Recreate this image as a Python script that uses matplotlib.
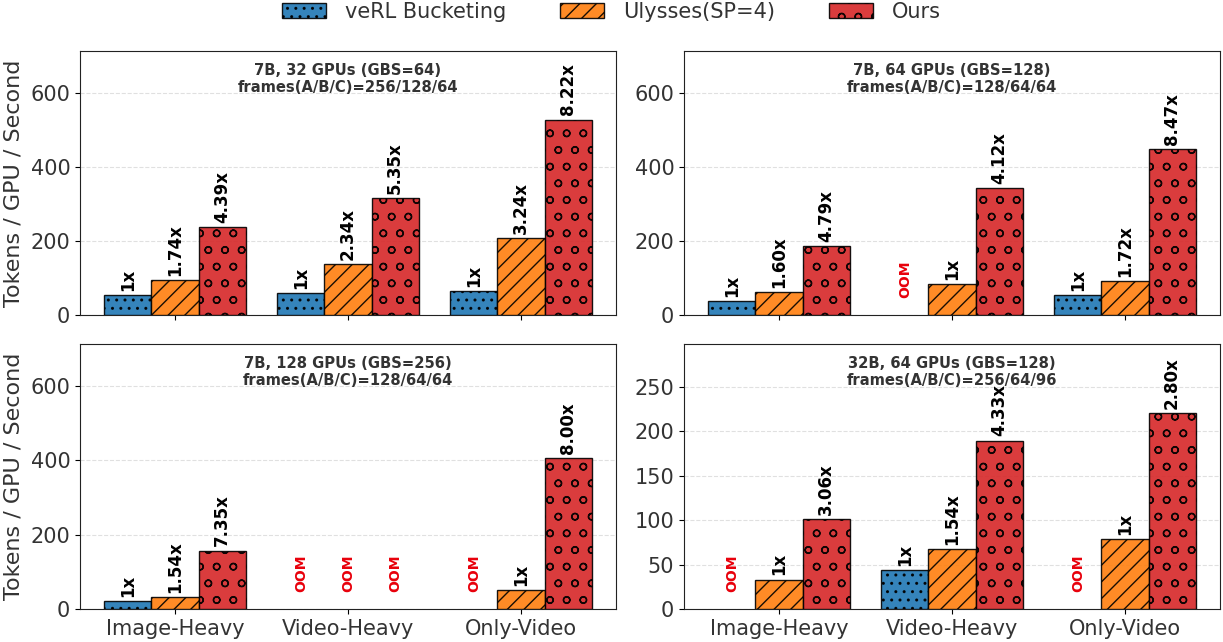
import matplotlib.pyplot as plt
import matplotlib.transforms as mtransforms
import numpy as np

categories = ['Image-Heavy', 'Video-Heavy', 'Only-Video']
methods = ['veRL Bucketing', 'Ulysses(SP=4)', 'Ours']

titles = [
    '7B, 32 GPUs (GBS=64)\nframes(A/B/C)=256/128/64',
    '7B, 64 GPUs (GBS=128)\nframes(A/B/C)=128/64/64',
    '7B, 128 GPUs (GBS=256)\nframes(A/B/C)=128/64/64',
    '32B, 64 GPUs (GBS=128)\nframes(A/B/C)=256/64/96',
]

# throughput per panel, None = OOM
verl_vals = [
    [54, 59, 64],
    [38.5, None, 53],
    [21.4, None, None],
    [None, 43.7, None],
]
ulysses_vals = [
    [94, 138, 208],
    [62, 83, 91],
    [33, None, 50.6],
    [33, 67.3, 78.8],
]
ours_vals = [
    [237, 316, 527],
    [185, 342, 447],
    [157, None, 405],
    [101, 189.3, 220.6],
]

verl_labels = [
    ['1x', '1x', '1x'],
    ['1x', None, '1x'],
    ['1x', None, None],
    [None, '1x', None],
]
ulysses_labels = [
    ['1.74x', '2.34x', '3.24x'],
    ['1.60x', '1x', '1.72x'],
    ['1.54x', None, '1x'],
    ['1x', '1.54x', '1x'],
]
ours_labels = [
    ['4.39x', '5.35x', '8.22x'],
    ['4.79x', '4.12x', '8.47x'],
    ['7.35x', None, '8.00x'],
    ['3.06x', '4.33x', '2.80x'],
]

y_limits = [712, 712, 712, 298]
y_ticks = [[0, 200, 400, 600]] * 3 + [[0, 50, 100, 150, 200, 250]]

colors = ['#1f77b4', '#ff7f0e', '#d62728']
hatches = ['..', '//', 'o']

fig = plt.figure(figsize=(12.23, 6.42), dpi=100)

W, H = 1223, 642
# axes boxes in pixels: (left, top, right, bottom)
boxes = [(80, 51, 616, 315), (684, 51, 1220, 315),
         (80, 344, 616, 609), (684, 344, 1220, 609)]

x = np.arange(len(categories))
width = 0.272

for i, (l, t, r, b) in enumerate(boxes):
    ax = fig.add_axes([l / W, 1 - b / H, (r - l) / W, (b - t) / H])
    series = [verl_vals[i], ulysses_vals[i], ours_vals[i]]
    labels = [verl_labels[i], ulysses_labels[i], ours_labels[i]]
    trans = mtransforms.blended_transform_factory(ax.transData, ax.transAxes)
    for j in range(3):
        xs = x + (j - 1) * width
        for k in range(len(categories)):
            v = series[j][k]
            if v is None:
                ax.text(xs[k], 0.135, 'OOM', transform=trans, rotation=90,
                        ha='center', va='center', color='#e8000b',
                        fontsize=10, fontweight='bold')
                continue
            ax.bar(xs[k], v, width, color=colors[j], alpha=0.9,
                   edgecolor='black', linewidth=1.0, hatch=hatches[j], zorder=3)
            ax.annotate(labels[j][k], (xs[k], v), xytext=(0, 3),
                        textcoords='offset points', rotation=90,
                        ha='center', va='bottom', fontsize=12,
                        fontweight='bold', color='black')

    ax.set_xlim(-0.549, 2.549)
    ax.set_ylim(0, y_limits[i])
    ax.set_yticks(y_ticks[i])
    ax.set_xticks(x)
    if i >= 2:
        ax.set_xticklabels(categories)
    else:
        ax.set_xticklabels([])
    ax.tick_params(axis='both', labelsize=15, labelcolor='#333333')
    ax.grid(axis='y', linestyle='--', color='#cccccc', alpha=0.6, linewidth=0.8, zorder=0)
    for s in ax.spines.values():
        s.set_color('#222222')
    ax.text(0.5, 0.955, titles[i], transform=ax.transAxes, ha='center', va='top',
            fontsize=10.6, fontweight='bold', color='#333333', linespacing=1.15)
    if i % 2 == 0:
        ax.set_ylabel('Tokens / GPU / Second', fontsize=16, color='#333333', labelpad=5)

# legend
handles = [plt.Rectangle((0, 0), 1, 1, facecolor=colors[j], alpha=0.9,
                         edgecolor='black', hatch=hatches[j]) for j in range(3)]
fig.legend(handles, methods, loc='center', bbox_to_anchor=(0.5, 0.982),
           ncol=3, frameon=False, fontsize=15, handlelength=2.1,
           handleheight=0.7, handletextpad=0.9, columnspacing=2.6,
           labelcolor='#333333')

fig.savefig('out.png', dpi=100)
